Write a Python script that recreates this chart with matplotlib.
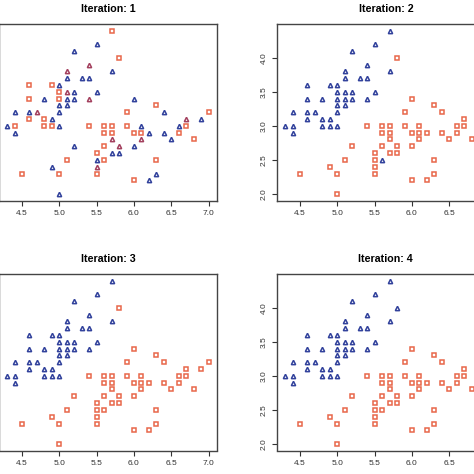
import matplotlib.pyplot as plt

plt.rcParams['font.family'] = ['Liberation Sans', 'DejaVu Sans']

# unique (sepal length, sepal width) points
xs = [5.1, 4.9, 4.7, 4.6, 5.0, 5.4, 4.6, 5.0, 4.4, 4.9,
      5.4, 4.8, 4.8, 4.3, 5.8, 5.7, 5.7, 5.1, 5.4, 5.1,
      4.6, 5.1, 5.0, 5.2, 5.2, 4.8, 5.2, 5.5, 5.0, 5.5,
      4.9, 4.4, 5.1, 5.0, 4.5, 4.4, 4.6, 5.3, 5.0, 7.0,
      6.4, 6.9, 5.5, 6.5, 5.7, 6.3, 4.9, 6.6, 5.2, 5.0,
      5.9, 6.0, 6.1, 5.6, 6.7, 5.6, 5.8, 6.2, 5.6, 5.9,
      6.1, 6.3, 6.4, 6.6, 6.8, 6.7, 6.0, 5.7, 5.5, 6.0,
      5.4, 6.0, 6.3, 5.5, 5.5, 6.1, 5.8, 5.0, 5.6, 5.7,
      5.7, 6.2, 5.1]
ys = [3.5, 3.0, 3.2, 3.1, 3.6, 3.9, 3.4, 3.4, 2.9, 3.1,
      3.7, 3.4, 3.0, 3.0, 4.0, 4.4, 3.8, 3.8, 3.4, 3.7,
      3.6, 3.3, 3.0, 3.5, 3.4, 3.1, 4.1, 4.2, 3.2, 3.5,
      3.6, 3.0, 3.4, 3.5, 2.3, 3.2, 3.2, 3.7, 3.3, 3.2,
      3.2, 3.1, 2.3, 2.8, 2.8, 3.3, 2.4, 2.9, 2.7, 2.0,
      3.0, 2.2, 2.9, 2.9, 3.1, 3.0, 2.7, 2.2, 2.5, 3.2,
      2.8, 2.5, 2.9, 3.0, 2.8, 3.0, 2.9, 2.6, 2.4, 2.7,
      3.0, 3.4, 2.3, 2.5, 2.6, 3.0, 2.6, 2.3, 2.7, 3.0,
      2.9, 2.9, 2.5]

# cluster of each point per iteration: T = triangle, S = square, B = both overlapping
iter1 = "BSBSTBSSTT TTSTSSTBBT STTTTSTTTT SSTSSTTTTS TTSTBSTSTT SSSSBSBTSS BSTTSSSTBT STTTSTTSSS STS"
iter2 = "TTTTTTTTTT TTTTSTTTTT TTTTTTTTTT TTTTSTTTTS SSSSSSSSSS SSSSSSSSTS SSSSSSSSSS SSSSSSSSSS SSS"
iter3 = "TTTTTTTTTT TTTTSTTTTT TTTTTTTTTT TTTTSTTTTS SSSSSSSSSS SSSSSSSSSS SSSSSSSSSS SSSSSSSSSS SSS"
iter4 = "TTTTTTTTTT TTTTTTTTTT TTTTTTTTTT TTTTSTTTTS SSSSSSSSSS SSSSSSSSSS SSSSSSSSSS SSSSSSSSSS SSS"
iterations = [iter1, iter2, iter3, iter4]
titles = ["Iteration: 1", "Iteration: 2", "Iteration: 3", "Iteration: 4"]

xticks = [4.5, 5.0, 5.5, 6.0, 6.5, 7.0]
yticks = [2.0, 2.5, 3.0, 3.5, 4.0]

blue = '#32429c'
orange = '#e8674a'
mixed = '#a3405e'

fig = plt.figure(figsize=(4.74, 4.74), dpi=100)
W = 474.0
positions = [(-1, 200.5), (277, 200.5), (-1, 450.5), (277, 450.5)]
aw, ah = 217.7, 176.5

for i, ((px, pbottom), codes, title) in enumerate(zip(positions, iterations, titles)):
    ax = fig.add_axes([px / W, (W - pbottom) / W, aw / W, ah / W])
    codes = codes.replace(" ", "")
    for code, color, marker, ms in [('S', orange, 's', 2.4),
                                    ('T', blue, '^', 3.1),
                                    ('B', mixed, '^', 3.1)]:
        sx = [x for x, c in zip(xs, codes) if c == code]
        sy = [y for y, c in zip(ys, codes) if c == code]
        ax.plot(sx, sy, linestyle='none', marker=marker, markersize=ms,
                markerfacecolor='none', markeredgecolor=color,
                markeredgewidth=1.1, clip_on=False)
    ax.set_xlim(4.192, 7.108)
    ax.set_ylim(1.904, 4.496)
    # right column: the 7.0 tick falls outside the visible area
    xt = xticks if i % 2 == 0 else xticks[:-1]
    ax.set_xticks(xt)
    ax.set_xticklabels([f"{t:.1f}" for t in xt])
    ax.set_yticks(yticks)
    ax.set_yticklabels([f"{t:.1f}" for t in yticks], rotation=90, va='center')
    ax.tick_params(direction='out', length=3.6, width=0.8, pad=3,
                   labelsize=6, colors='#333333')
    if i % 2 == 0:
        # left column: y axis lies outside the visible area
        ax.tick_params(axis='y', labelleft=False)
    for s in ax.spines.values():
        s.set_color('#444444')
        s.set_linewidth(1.0)
    ax.set_title(title, fontsize=7.7, fontweight='bold', pad=9)

fig.savefig('out.png', dpi=100)
